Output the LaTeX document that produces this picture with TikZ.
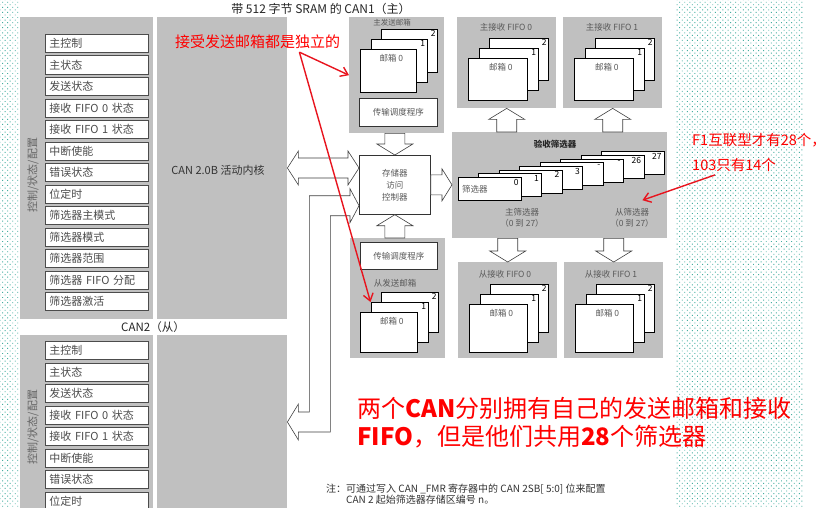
\documentclass[tikz,border=0pt]{standalone}
\usepackage{fontspec}
\setmainfont{Noto Sans CJK SC}
\usetikzlibrary{calc,patterns.meta,arrows.meta}
\definecolor{panelgray}{RGB}{192,192,192}
\definecolor{dotc}{RGB}{70,175,160}
\definecolor{annred}{RGB}{255,0,0}
\definecolor{arrred}{RGB}{232,20,30}
\newcommand{\myfs}[1]{\fontsize{#1}{#1}\selectfont}
\tikzset{
 panel/.style={fill=panelgray, draw=none, inner sep=0, anchor=north west},
 reg/.style={draw=black!70, line width=0.7pt, fill=white, anchor=north west, inner xsep=4pt, inner ysep=0pt, text width=95pt, minimum height=18pt, align=left, text=black!70, font=\myfs{11}},
 card/.style={draw=black, line width=0.7pt, fill=white, anchor=north west, inner sep=0},
 wbox/.style={draw=black!80, line width=0.7pt, fill=white, anchor=north west, inner sep=0, text=black!65, font=\myfs{8.5}},
 lbl/.style={text=black!65, font=\myfs{8.5}, inner sep=0},
 num/.style={text=black, font=\myfs{8.5}, inner sep=0, anchor=north east},
 blk/.style={draw=black!75, fill=white, line width=0.6pt, line join=miter},
 redarr/.style={draw=arrred, line width=1.4pt, -{Straight Barb[length=7pt,width=10pt]}},
 redtxt/.style={text=annred, inner sep=0, anchor=west},
 dotfill/.style={pattern={Dots[distance=3.6pt,radius=0.65pt,angle=45]}, pattern color=dotc},
}
\newcommand{\blkdown}[2]{\draw[blk] let \p1=(#1), \p2=(#2) in (\x1-10pt,\y1) -- (\x1-10pt,\y2+11pt) -- (\x1-18pt,\y2+11pt) -- (\x1,\y2) -- (\x1+18pt,\y2+11pt) -- (\x1+10pt,\y2+11pt) -- (\x1+10pt,\y1) -- cycle;}
\newcommand{\blkup}[2]{\draw[blk] let \p1=(#1), \p2=(#2) in (\x1-10pt,\y1) -- (\x1-10pt,\y2-11pt) -- (\x1-18pt,\y2-11pt) -- (\x1,\y2) -- (\x1+18pt,\y2-11pt) -- (\x1+10pt,\y2-11pt) -- (\x1+10pt,\y1) -- cycle;}
\newcommand{\blkright}[2]{\draw[blk] let \p1=(#1), \p2=(#2) in (\x1,\y1+10pt) -- (\x2-10pt,\y1+10pt) -- (\x2-10pt,\y1+16pt) -- (\x2,\y1) -- (\x2-10pt,\y1-16pt) -- (\x2-10pt,\y1-10pt) -- (\x1,\y1-10pt) -- cycle;}
\newcommand{\blkdouble}[2]{\draw[blk] let \p1=(#1), \p2=(#2) in (\x1,\y1) -- (\x1+11pt,\y1+17pt) -- (\x1+11pt,\y1+10pt) -- (\x2-11pt,\y1+10pt) -- (\x2-11pt,\y1+17pt) -- (\x2,\y1) -- (\x2-11pt,\y1-17pt) -- (\x2-11pt,\y1-10pt) -- (\x1+11pt,\y1-10pt) -- (\x1+11pt,\y1-17pt) -- cycle;}
\newcommand{\mbstack}[5]{%
 \node[card, minimum width=#4pt, minimum height=#5pt] (#1c2) at (#2+21,#3-20) {};
 \node[num] (#1n2) at ($(#1c2.north east)+(-2,1)$) {2};
 \node[card, minimum width=#4pt, minimum height=#5pt] (#1c1) at (#2+10.5,#3-10) {};
 \node[num] (#1n1) at ($(#1c1.north east)+(-2,1)$) {1};
 \node[card, minimum width=#4pt, minimum height=#5pt] (#1c0) at (#2,#3) {};
 \node[lbl, anchor=north] (#1n0) at ($(#1c0.north)+(3,5)$) {邮箱 0};
}
\begin{document}
\begin{tikzpicture}[x=1pt,y=-1pt]
\path[use as bounding box, fill=white] (0,0) rectangle (834,519);
\fill[dotfill] (0,0) rectangle (18,507);
\fill[dotfill] (676,0) rectangle (803,507);

% ---------- CAN1 ----------
\node[inner sep=0, font=\myfs{12}, text=black!85] (title) at (321,9) {带 512 字节 SRAM 的 CAN1（主）};
\node[panel, minimum width=133pt, minimum height=302pt] (reg1) at (20,17) {};
\node[panel, minimum width=130pt, minimum height=302pt] (core1) at (157,17) {};
\foreach \t [count=\i from 0] in {主控制,主状态,发送状态,接收 FIFO 0 状态,接收 FIFO 1 状态,中断使能,错误状态,位定时,筛选器主模式,筛选器模式,筛选器范围,筛选器 FIFO 分配,筛选器激活}
  {\node[reg] (ra\i) at (45,{34+21.5*\i}) {\t};}
\node[text=black!60, font=\myfs{11}, rotate=90, inner sep=0] (v1) at (33,175) {控制/状态/配置};
\node[text=black!80, font=\myfs{11}, inner sep=0] (c1txt) at (218,170) {CAN 2.0B 活动内核};

% ---------- CAN2 ----------
\node[inner sep=0, font=\myfs{11.5}, text=black!85] (can2) at (153,327) {CAN2（从）};
\begin{scope}
\clip (0,0) rectangle (834,507);
\node[panel, minimum width=133pt, minimum height=180pt] (reg2) at (20,335) {};
\node[panel, minimum width=130pt, minimum height=180pt] (core2) at (157,335) {};
\foreach \t [count=\i from 0] in {主控制,主状态,发送状态,接收 FIFO 0 状态,接收 FIFO 1 状态,中断使能,错误状态,位定时}
  {\node[reg] (rb\i) at (45,{341+21.5*\i}) {\t};}
\node[text=black!60, font=\myfs{11}, rotate=90, inner sep=0] (v2) at (33,427) {控制/状态/配置};
\end{scope}

% ---------- master transmit ----------
\node[panel, minimum width=95pt, minimum height=116pt] (mtxp) at (349,17) {};
\node[lbl, font=\myfs{7.5}] (mtxl) at (392,23) {主发送邮箱};
\mbstack{mtx}{360}{49}{56}{43}
\node[wbox, minimum width=78pt, minimum height=28pt] (msch) at (359,98) {传输调度程序};

% ---------- memory controller ----------
\node[wbox, minimum width=71pt, minimum height=59pt, align=center, font=\fontsize{8.5}{12}\selectfont] (mc) at (359,155) {存储器\\访问\\控制器};

% ---------- slave transmit ----------
\node[panel, minimum width=95pt, minimum height=120pt] (stxp) at (350,238) {};
\node[wbox, minimum width=77pt, minimum height=27pt] (ssch) at (360,242) {传输调度程序};
\node[lbl] (stxl) at (395,283) {从发送邮箱};
\mbstack{stx}{360}{312}{57}{40}

% ---------- receive FIFOs ----------
\node[panel, minimum width=99pt, minimum height=91pt] (mrxa) at (457,17) {};
\node[lbl] (mrxal) at (506,27) {主接收 FIFO 0};
\mbstack{mra}{468}{58}{59}{42}
\node[panel, minimum width=99pt, minimum height=91pt] (mrxb) at (563,17) {};
\node[lbl] (mrxbl) at (612,27) {主接收 FIFO 1};
\mbstack{mrb}{574}{58}{59}{42}

\node[panel, minimum width=99pt, minimum height=96pt] (srxa) at (458,262) {};
\node[lbl] (srxal) at (505,274) {从接收 FIFO 0};
\mbstack{sra}{469}{304}{58}{48}
\node[panel, minimum width=99pt, minimum height=96pt] (srxb) at (564,262) {};
\node[lbl] (srxbl) at (611,274) {从接收 FIFO 1};
\mbstack{srb}{575}{304}{58}{48}

% ---------- filters ----------
\node[panel, minimum width=215pt, minimum height=106pt] (filter) at (452,132) {};
\node[lbl, font=\myfs{8.5}\bfseries, text=black!85] (fttl) at (555,144) {验收筛选器};
\foreach \i/\t in {7/27,6/26,5/-,4/-,3/3,2/2,1/1,0/0} {
  \node[card, minimum width=63pt, minimum height=23pt] (fc\i) at ({458+20.43*\i},{177-3.7*\i}) {};
  \node[num] (fn\i) at ($(fc\i.north east)+(-3,2)$) {\t};
}
\node[lbl, anchor=west] (fc0l) at ($(fc0.west)+(4,0)$) {筛选器};
\node[lbl, align=center, font=\fontsize{8.5}{11}\selectfont] (mflt) at (522,218) {主筛选器\\（0 到 27）};
\node[lbl, align=center, font=\fontsize{8.5}{11}\selectfont] (sflt) at (632,218) {从筛选器\\（0 到 27）};

% ---------- block arrows ----------
\blkdown{mc.north |- mtxp.south}{mc.north}
\blkup{mc.south |- stxp.north}{mc.south}
\blkright{mc.east}{filter.west |- mc.east}
\blkup{mrxa.south |- filter.north}{mrxa.south}
\blkup{mrxb.south |- filter.north}{mrxb.south}
\blkdown{srxa.north |- filter.south}{srxa.north}
\blkdown{srxb.north |- filter.south}{srxb.north}
\coordinate (dbl) at ($(mc.north west)+(0,13)$);
\blkdouble{core1.east |- dbl}{dbl}
\coordinate (lt) at ($(mc.south west)+(0,-9)$);
\coordinate (lb) at ($(core2.north east)+(0,87)$);
\draw[blk] let \p1=(lt), \p2=(lb) in
  (\x1,\y1) -- (\x1-9pt,\y1+17pt) -- (\x1-9pt,\y1+10pt) -- (\x2+22pt,\y1+10pt)
  -- (\x2+22pt,\y2+10pt) -- (\x2+11pt,\y2+10pt) -- (\x2+11pt,\y2+18pt) -- (\x2,\y2)
  -- (\x2+11pt,\y2-18pt) -- (\x2+11pt,\y2-10pt) -- (\x2+43pt,\y2-10pt)
  -- (\x2+43pt,\y1-10pt) -- (\x1-9pt,\y1-10pt) -- (\x1-9pt,\y1-17pt) -- cycle;

% ---------- annotations ----------
\node[redtxt, font=\myfs{15}] (rtop) at (175,42) {接受发送邮箱都是独立的};
\coordinate (rs) at ($(rtop.south east)+(-41,3)$);
\draw[redarr] (rs) -- (mtxp.west);
\draw[redarr] (rs) -- (stxc1.north west);
\node[redtxt, font=\myfs{14.5}] (rr1) at (692,140) {F1互联型才有28个，};
\node[redtxt, font=\myfs{14.5}] (rr2) at (692,165) {103只有14个};
\draw[redarr] ($(rr2.south west)+(23,3)$) -- ($(filter.east)+(-25,15)$);
\node[redtxt, font=\myfs{24}] (big1) at (357,408) {两个\textbf{CAN}分别拥有自己的发送邮箱和接收};
\node[redtxt, font=\myfs{24}] (big2) at (357,437) {\textbf{FIFO}，但是他们共用\textbf{28}个筛选器};
\node[anchor=west, inner sep=0, text=black!80, font=\myfs{10}] (n1) at (326,489) {注：可通过写入 CAN \_FMR 寄存器中的 CAN 2SB[ 5:0] 位来配置};
\node[anchor=west, inner sep=0, text=black!80, font=\myfs{10}] (n2) at (346,500) {CAN 2 起始筛选器存储区编号 n。};
\end{tikzpicture}
\end{document}
